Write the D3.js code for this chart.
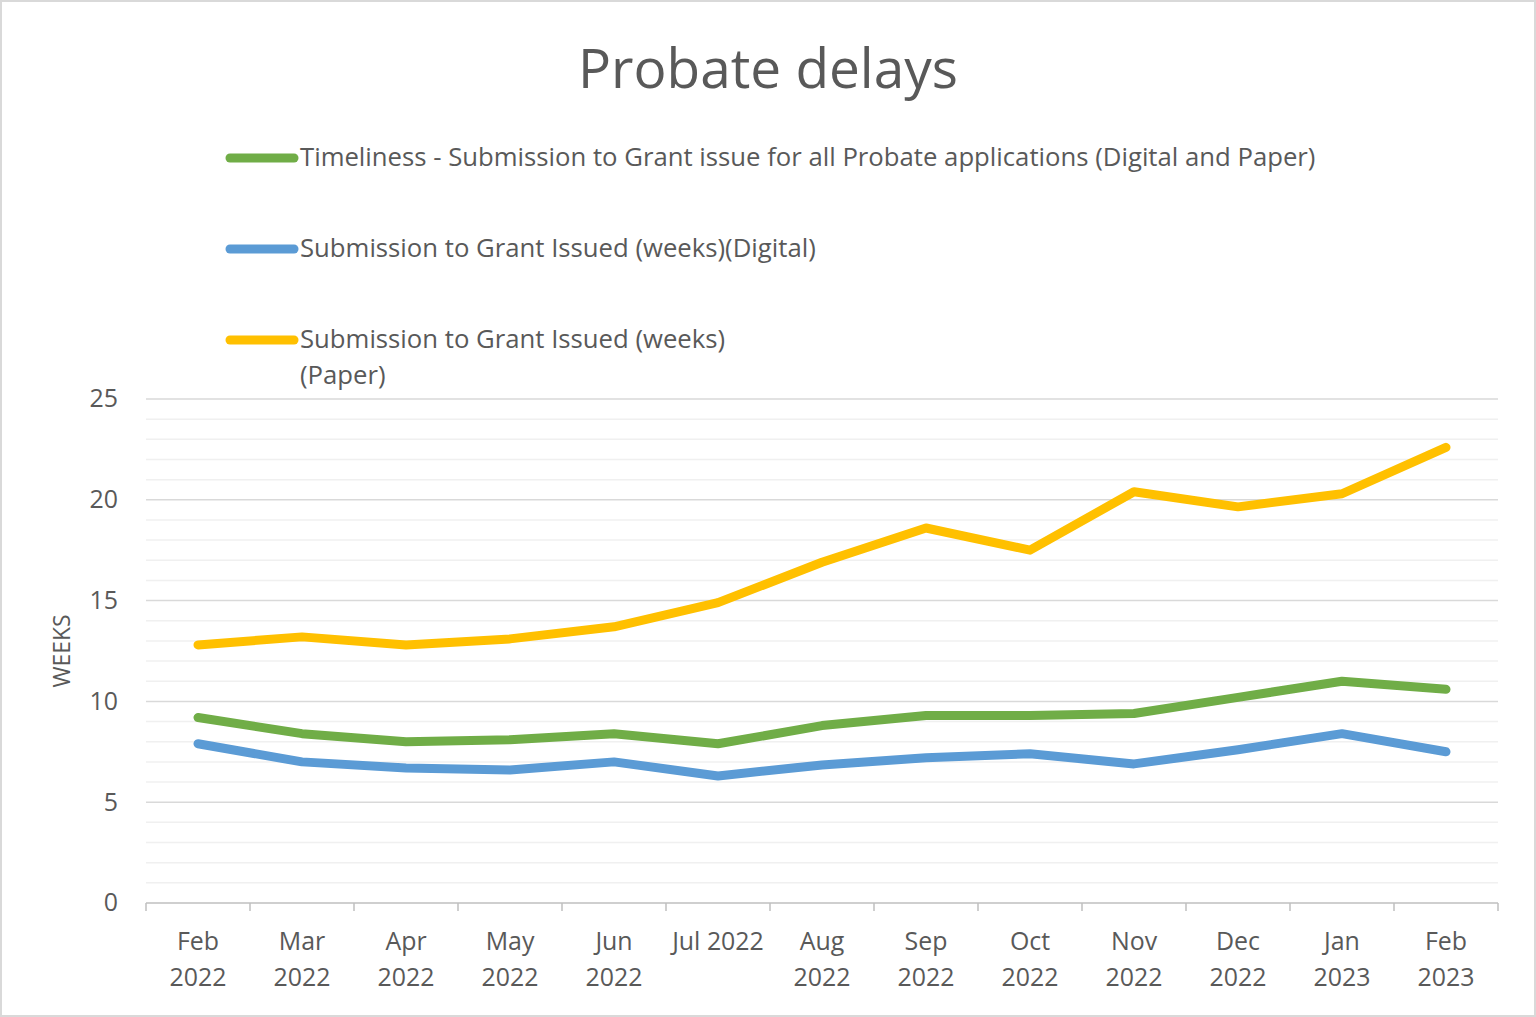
<!DOCTYPE html>
<html><head><meta charset="utf-8">
<script src="https://cdn.jsdelivr.net/npm/d3@7"></script>
<style>
html,body{margin:0;padding:0;background:#fff;}
svg{display:block;}
text{font-family:"Open Sans",Lato,sans-serif;fill:#595959;}
</style></head>
<body>
<svg id="chart" width="1536" height="1017"></svg>
<script>
const title = "Probate delays";
const yAxisTitle = "WEEKS";
const categories = ["Feb 2022","Mar 2022","Apr 2022","May 2022","Jun 2022","Jul 2022","Aug 2022","Sep 2022","Oct 2022","Nov 2022","Dec 2022","Jan 2023","Feb 2023"];
const categoryLines = [["Feb","2022"],["Mar","2022"],["Apr","2022"],["May","2022"],["Jun","2022"],["Jul 2022"],["Aug","2022"],["Sep","2022"],["Oct","2022"],["Nov","2022"],["Dec","2022"],["Jan","2023"],["Feb","2023"]];
const seriesNames = [
  "Timeliness - Submission to Grant issue for all Probate applications (Digital and Paper)",
  "Submission to Grant Issued (weeks)(Digital)",
  "Submission to Grant Issued (weeks) (Paper)"
];
const legendLines = [
  ["Timeliness - Submission to Grant issue for all Probate applications (Digital and Paper)"],
  ["Submission to Grant Issued (weeks)(Digital)"],
  ["Submission to Grant Issued (weeks)","(Paper)"]
];
const seriesColors = ["#70AD47","#5B9BD5","#FFC000"];
const timelinessAll = [9.2,8.4,8.0,8.1,8.4,7.9,8.8,9.3,9.3,9.4,10.2,11.0,10.6];
const digitalWeeks  = [7.9,7.0,6.7,6.6,7.0,6.3,6.85,7.2,7.4,6.9,7.6,8.4,7.5];
const paperWeeks    = [12.8,13.2,12.8,13.1,13.7,14.9,16.9,18.6,17.5,20.4,19.65,20.3,22.6];
const yTicks = [0,5,10,15,20,25];
const yMinorTicks = d3.range(0,26,1);

(function(){
const seriesValues = [timelinessAll, digitalWeeks, paperWeeks];

const svg = d3.select("#chart");
const W = 1536, H = 1017;

function fit(str, target, base){
  const t = svg.append("text").attr("font-size",base).text(str);
  const w = t.node().getComputedTextLength();
  t.remove();
  return base*target/w;
}
const legendSize = Math.min(26, fit(legendLines[0][0], 1016, 24));
const titleSize = fit(title, 380, 56);
const labelSize = Math.min(26, fit("2022", 57, 24));

svg.append("rect").attr("x",1).attr("y",1).attr("width",W-2).attr("height",H-2)
  .attr("fill","#fff").attr("stroke","#d9d9d9").attr("stroke-width",2);

const pl = 146, pr = 1498, pt = 399, pb = 903;
const x = d3.scaleBand().domain(categories).range([pl,pr]).padding(0);
const y = d3.scaleLinear().domain([0,25]).range([pb,pt]);

svg.append("g").selectAll("line").data(yMinorTicks.filter(v=>v%5!==0)).join("line")
  .attr("x1",pl).attr("x2",pr).attr("y1",d=>y(d)).attr("y2",d=>y(d))
  .attr("stroke","#f0f0f0").attr("stroke-width",1.5);
svg.append("g").selectAll("line").data(yTicks.filter(v=>v>0)).join("line")
  .attr("x1",pl).attr("x2",pr).attr("y1",d=>y(d)).attr("y2",d=>y(d))
  .attr("stroke","#d9d9d9").attr("stroke-width",1.5);

const yAxis = d3.axisLeft(y).tickValues(yTicks).tickSize(0).tickPadding(28);
const yg = svg.append("g").attr("transform",`translate(${pl},0)`).call(yAxis);
yg.select(".domain").remove();
yg.selectAll("text").attr("font-size",labelSize).attr("fill","#595959").style("font-family","'Open Sans', Lato, sans-serif");

const xAxisG = svg.append("g");
xAxisG.append("line").attr("x1",pl).attr("x2",pr).attr("y1",pb).attr("y2",pb)
  .attr("stroke","#bfbfbf").attr("stroke-width",1.5);
const boundaries = categories.map(c=>x(c)).concat([x(categories[categories.length-1])+x.bandwidth()]);
xAxisG.selectAll("line.tk").data(boundaries).join("line").attr("class","tk")
  .attr("x1",d=>d).attr("x2",d=>d).attr("y1",pb).attr("y2",pb+8)
  .attr("stroke","#bfbfbf").attr("stroke-width",1.5);

categories.forEach((c,i)=>{
  const t = svg.append("text").attr("text-anchor","middle").attr("font-size",labelSize)
    .attr("x",x(c)+x.bandwidth()/2).attr("y",950);
  categoryLines[i].forEach((ln,j)=>{
    t.append("tspan").attr("x",x(c)+x.bandwidth()/2).attr("dy",j===0?0:36).text(ln);
  });
});

svg.append("text").attr("transform",`translate(70,651) rotate(-90)`).attr("text-anchor","middle")
  .attr("font-size",labelSize*0.92).text(yAxisTitle);

const line = d3.line().x((d,i)=>x(categories[i])+x.bandwidth()/2).y(d=>y(d));
seriesValues.forEach((vals,k)=>{
  svg.append("path").datum(vals).attr("d",line).attr("fill","none")
    .attr("stroke",seriesColors[k]).attr("stroke-width",9)
    .attr("stroke-linecap","round").attr("stroke-linejoin","round");
});

svg.append("text").attr("x",768).attr("y",88).attr("text-anchor","middle")
  .attr("font-size",titleSize).text(title);

const legendY = [158,249,340];
seriesNames.forEach((n,k)=>{
  svg.append("line").attr("x1",230).attr("x2",294).attr("y1",legendY[k]).attr("y2",legendY[k])
    .attr("stroke",seriesColors[k]).attr("stroke-width",9).attr("stroke-linecap","round");
  const t = svg.append("text").attr("x",300).attr("y",legendY[k]+8).attr("font-size",legendSize);
  legendLines[k].forEach((ln,j)=>{
    t.append("tspan").attr("x",300).attr("dy",j===0?0:36).text(ln);
  });
});
})();
</script>
</body></html>
